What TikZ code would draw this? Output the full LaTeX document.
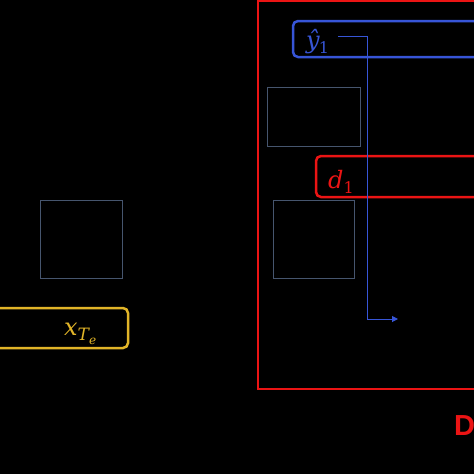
\documentclass[tikz,border=0pt]{standalone}
\usepackage{fontspec}
\setsansfont{Liberation Sans}
\newfontfamily\mathlike{DejaVu Serif}
\usetikzlibrary{arrows.meta}
\definecolor{rred}{RGB}{235,20,20}
\definecolor{bblue}{RGB}{55,85,215}
\definecolor{ggray}{RGB}{70,85,110}
\definecolor{yyel}{RGB}{225,180,40}
\newcommand{\bigv}[1]{{\mathlike\itshape\fontsize{24}{26}\selectfont #1}}
\newcommand{\subv}[1]{\raisebox{-5pt}{\mathlike\fontsize{16}{18}\selectfont #1}}
\newcommand{\subsubv}[1]{\raisebox{-4pt}{\mathlike\itshape\fontsize{12}{14}\selectfont #1}}
\tikzset{
  graybox/.style={draw=ggray, line width=1pt},
  tag/.style={rounded corners=5pt, line width=2.5pt},
  lbl/.style={inner sep=0pt, anchor=base west},
}
\begin{document}
\begin{tikzpicture}[x=1pt,y=-1pt]
\useasboundingbox (0,0) rectangle (474,474);
\fill[black] (0,0) rectangle (474,474);
\begin{scope}
\clip (0,0) rectangle (474,474);
% big red frame
\draw[rred, line width=2.5pt] (258,1) rectangle (520,389);
% blue tag
\draw[bblue, tag] (293,21) rectangle (520,57);
\node[lbl, text=bblue] (yhat) at (306,48) {\bigv{ŷ}\kern-1pt\subv{1}};
% gray boxes
\draw[graybox] (267,87) rectangle (360,146);
\draw[graybox] (273,200) rectangle (354,278);
\draw[graybox] (40,200) rectangle (122,278);
% red tag
\draw[rred, tag] (316,156) rectangle (520,197);
\node[lbl, text=rred] (d1) at (328,188) {\bigv{d}\subv{1}};
% yellow tag
\draw[yyel, tag] (-20,308) rectangle (128,348);
\node[lbl, text=yyel] (xt) at (64,335) {\bigv{x}\raisebox{-5pt}{\bigv{\fontsize{17}{18}\selectfont T}\subsubv{e}}};
% blue connector
\coordinate (bstart) at (338,36);
\coordinate (bend) at (398,319);
\draw[bblue, line width=1pt, -{Triangle[length=6pt,width=6pt]}] (bstart) -- (367,36) -- (367,319) -- (bend);
% D label
\node[anchor=north west, inner sep=0pt, text=rred, font=\sffamily\bfseries\fontsize{29}{32}\selectfont] (D) at (454,415) {D};
\end{scope}
\end{tikzpicture}
\end{document}
